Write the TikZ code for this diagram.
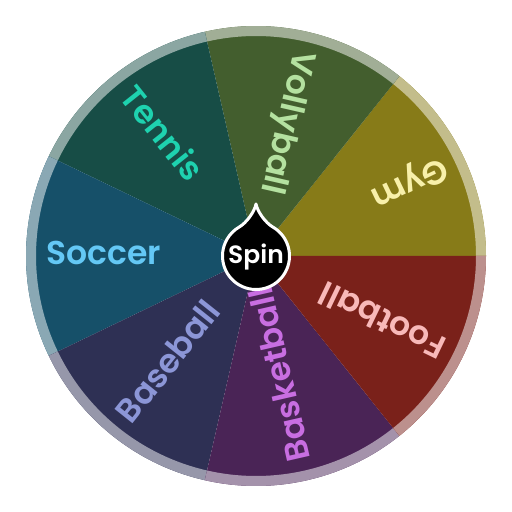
\documentclass[tikz,border=0pt]{standalone}
\usepackage{fontspec}
\usetikzlibrary{calc}
\newfontfamily\wheelfont{Poppins SemiBold}

\definecolor{gymbg}{RGB}{135,123,24}
\definecolor{gymfg}{RGB}{248,240,170}
\definecolor{vollybg}{RGB}{67,94,46}
\definecolor{vollyfg}{RGB}{180,225,160}
\definecolor{tennisbg}{RGB}{23,77,70}
\definecolor{tennisfg}{RGB}{30,210,175}
\definecolor{soccerbg}{RGB}{22,80,105}
\definecolor{soccerfg}{RGB}{100,200,245}
\definecolor{basebg}{RGB}{46,48,84}
\definecolor{basefg}{RGB}{140,150,215}
\definecolor{basketbg}{RGB}{74,36,86}
\definecolor{basketfg}{RGB}{200,110,225}
\definecolor{footbg}{RGB}{122,33,26}
\definecolor{footfg}{RGB}{248,185,185}

\begin{document}
\begin{tikzpicture}[x=1pt, y=1pt,
  slicetext/.style={anchor=base west, inner sep=0pt, font=\wheelfont\fontsize{33}{33}\selectfont},
  spintext/.style={anchor=base, inner sep=0pt, text=white, font=\wheelfont\fontsize{25}{25}\selectfont}]

  \useasboundingbox (0,0) rectangle (512,512);
  \coordinate (c) at (256,256);

  % seven slices, counter-clockwise from the right
  \foreach \i/\name/\bg/\fg in {0/Gym/gymbg/gymfg, 1/Vollyball/vollybg/vollyfg,
      2/Tennis/tennisbg/tennisfg, 3/Soccer/soccerbg/soccerfg, 4/Baseball/basebg/basefg,
      5/Basketball/basketbg/basketfg, 6/Football/footbg/footfg}{
    \pgfmathsetmacro{\a}{\i*360/7}
    \pgfmathsetmacro{\b}{(\i+1)*360/7}
    \pgfmathsetmacro{\m}{(\i+0.5)*360/7}
    \fill[\bg] (c) -- ($(c)+(\a:230)$) arc[start angle=\a, end angle=\b, radius=230] -- cycle;
    \fill[\bg!50!white] ($(c)+(\a:220)$) arc[start angle=\a, end angle=\b, radius=220]
      -- ($(c)+(\b:230)$) arc[start angle=\b, end angle=\a, radius=230] -- cycle;
    \node[slicetext, text=\fg, rotate=\m+180] (\name) at ($(c)+(\m:210)+(\m+90:8.5)$) {\name};
  }

  % spin button
  \begin{scope}[shift={(c)}]
    \draw[white, line width=3pt, line join=round, fill=black]
      (60:33.5) arc[start angle=60, end angle=-240, radius=33.5]
      .. controls (-9.8,33) and (-1.5,44) .. (0,52)
      .. controls (1.5,44) and (9.8,33) .. cycle;
  \end{scope}
  \node[spintext] (spin) at ($(c)+(0,-8)$) {Spin};

\end{tikzpicture}
\end{document}
